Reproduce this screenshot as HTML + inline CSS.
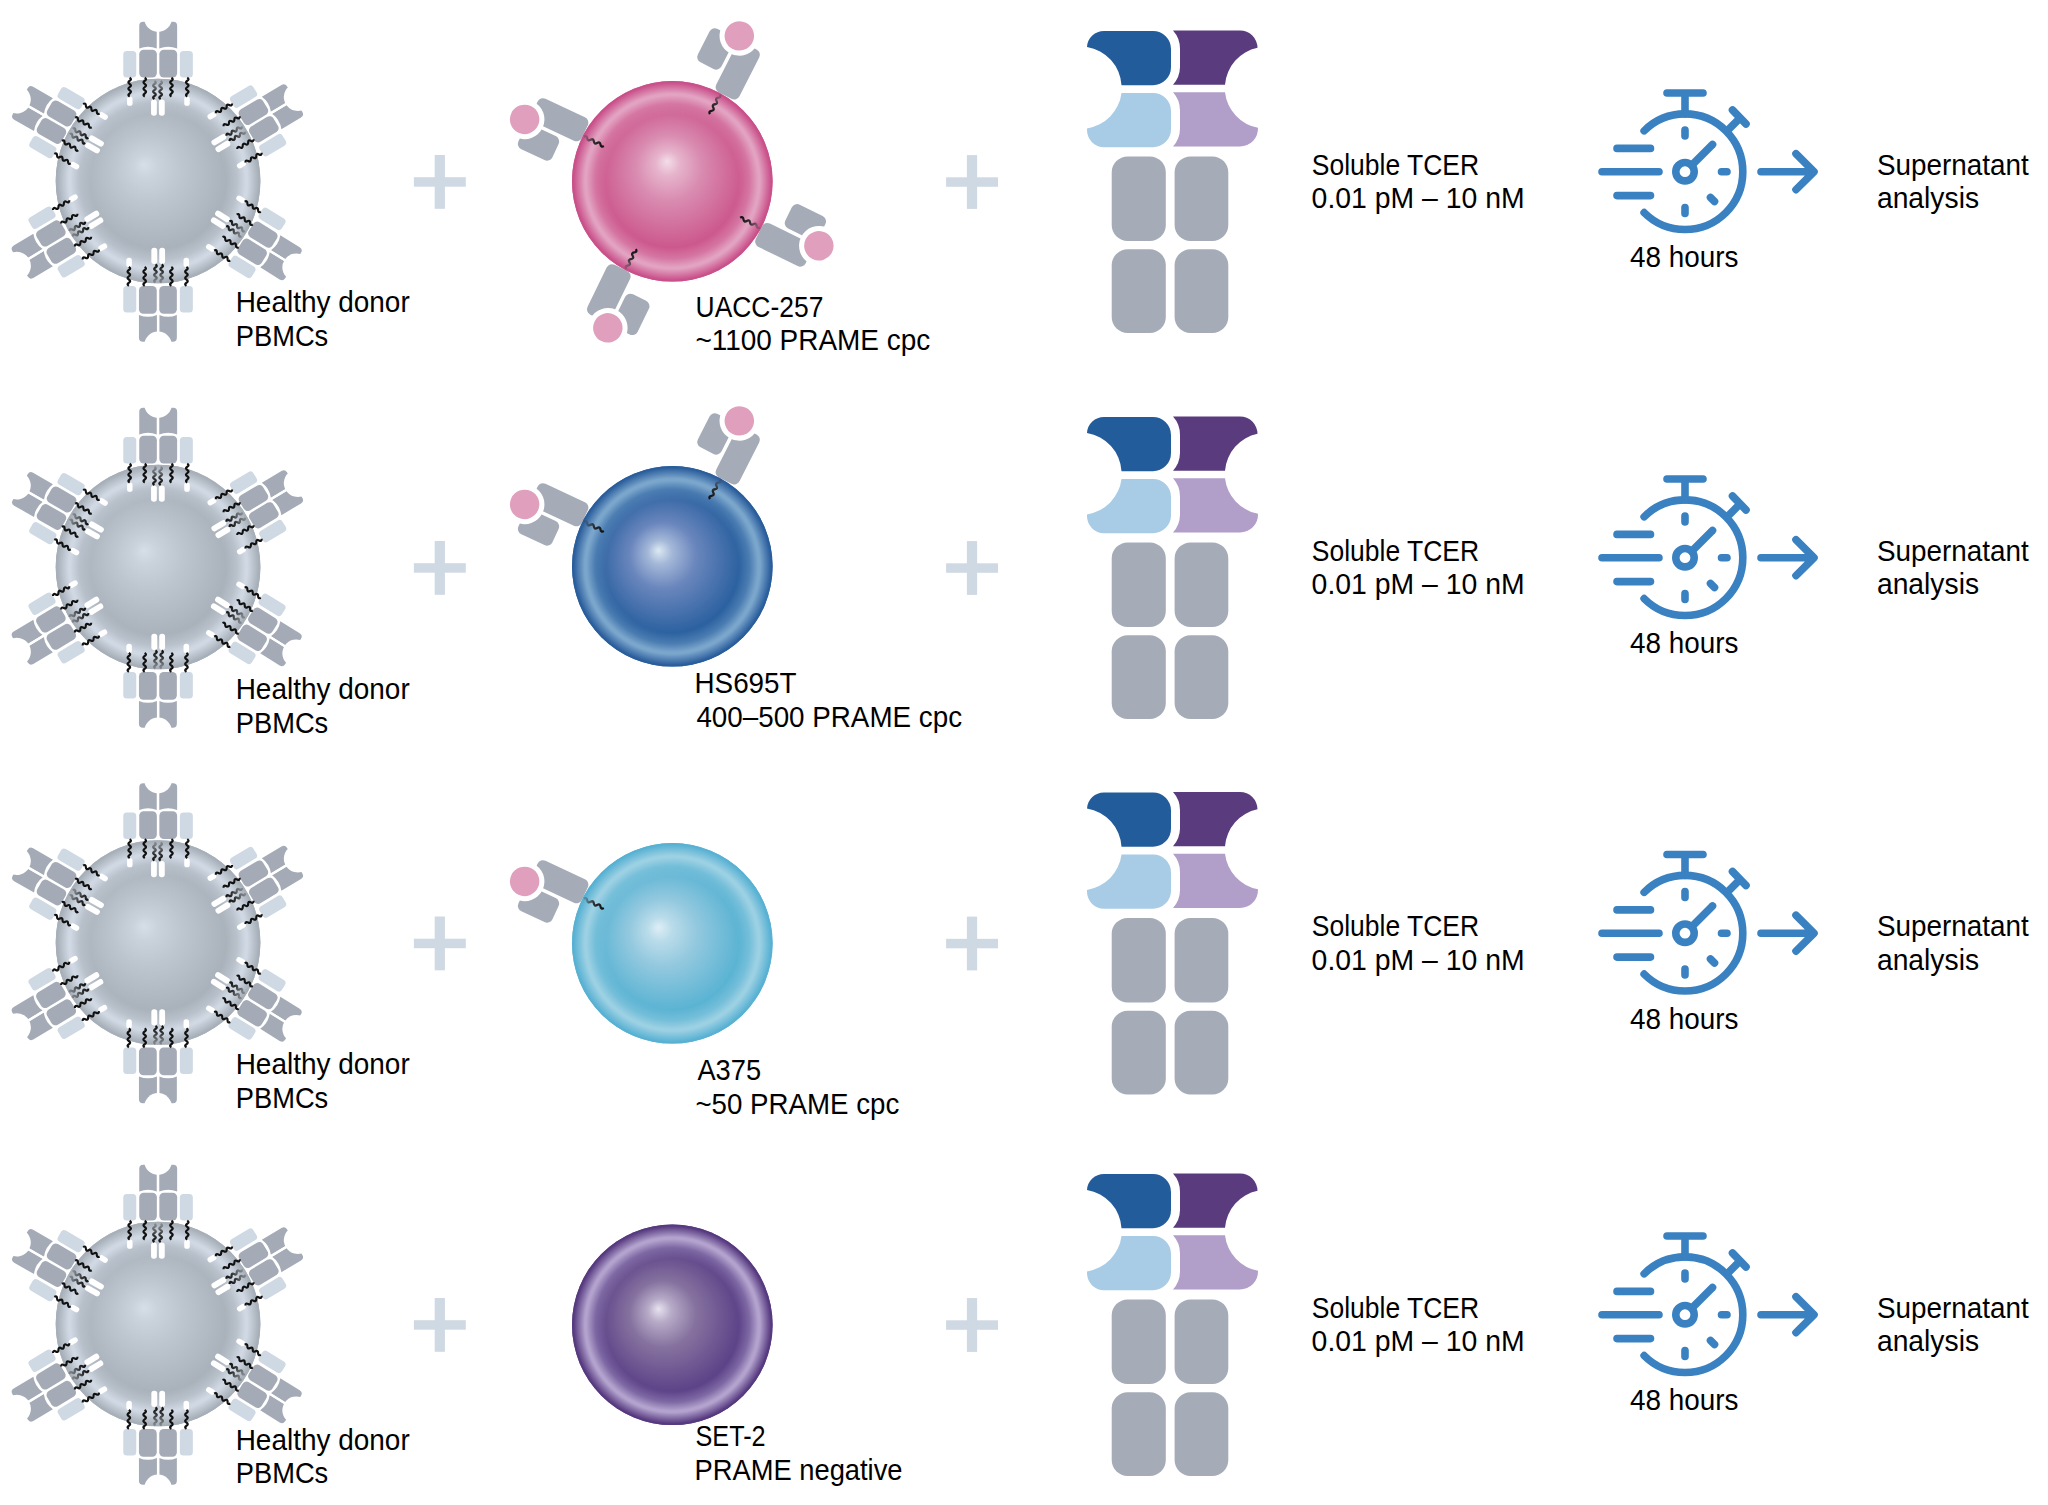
<!DOCTYPE html>
<html><head><meta charset="utf-8"><style>
html,body{margin:0;padding:0;background:#fff;width:2048px;height:1505px;overflow:hidden}
svg{display:block}
.t text{font-family:"Liberation Sans",sans-serif;font-size:29px;fill:#000}
</style></head><body>
<svg width="2048" height="1505" viewBox="0 0 2048 1505">
<defs><linearGradient id="wg1" gradientUnits="userSpaceOnUse" x1="0" y1="-100" x2="0" y2="-82">
<stop offset="0" stop-color="#555" stop-opacity="0.45"/><stop offset="0.6" stop-color="#222" stop-opacity="0.9"/><stop offset="1" stop-color="#111"/></linearGradient>
<linearGradient id="wg2" gradientUnits="userSpaceOnUse" x1="0" y1="-98" x2="0" y2="-77">
<stop offset="0" stop-color="#444" stop-opacity="0.35"/><stop offset="0.45" stop-color="#222" stop-opacity="0.9"/><stop offset="1" stop-color="#111"/></linearGradient>
<radialGradient id="pbb" cx="0.5" cy="0.5" r="0.5" fx="0.43" fy="0.42">
  <stop offset="0" stop-color="#d6dee7"/>
  <stop offset="0.12" stop-color="#cad2db"/>
  <stop offset="0.33" stop-color="#bdc5cf"/>
  <stop offset="0.72" stop-color="#a9b1bb"/>
  <stop offset="1" stop-color="#a9b1bb"/>
</radialGradient>
<radialGradient id="pbr" cx="0.5" cy="0.5" r="0.5">
  <stop offset="0.66" stop-color="#d0d9e3" stop-opacity="0"/>
  <stop offset="0.77" stop-color="#d0d9e3" stop-opacity="0.4"/>
  <stop offset="0.855" stop-color="#d0d9e3" stop-opacity="1"/>
  <stop offset="0.875" stop-color="#d0d9e3" stop-opacity="1"/>
  <stop offset="0.985" stop-color="#a7afb9"/>
  <stop offset="1" stop-color="#a7afb9"/>
</radialGradient>
<radialGradient id="c1b" cx="0.5" cy="0.5" r="0.5" fx="0.474" fy="0.4">
  <stop offset="0" stop-color="#f3dde9"/>
  <stop offset="0.12" stop-color="#e6b4cc"/>
  <stop offset="0.33" stop-color="#d98bb0"/>
  <stop offset="0.72" stop-color="#cc588d"/>
  <stop offset="1" stop-color="#cc588d"/>
</radialGradient>
<radialGradient id="c1r" cx="0.5" cy="0.5" r="0.5">
  <stop offset="0.66" stop-color="#e2a2c1" stop-opacity="0"/>
  <stop offset="0.77" stop-color="#e2a2c1" stop-opacity="0.4"/>
  <stop offset="0.855" stop-color="#e2a2c1" stop-opacity="1"/>
  <stop offset="0.875" stop-color="#e2a2c1" stop-opacity="1"/>
  <stop offset="0.985" stop-color="#c9508a"/>
  <stop offset="1" stop-color="#c9508a"/>
</radialGradient>
<radialGradient id="c2b" cx="0.5" cy="0.5" r="0.5" fx="0.43" fy="0.42">
  <stop offset="0" stop-color="#dde9f2"/>
  <stop offset="0.12" stop-color="#a4b8d8"/>
  <stop offset="0.33" stop-color="#6a86bd"/>
  <stop offset="0.72" stop-color="#2b61a0"/>
  <stop offset="1" stop-color="#2b61a0"/>
</radialGradient>
<radialGradient id="c2r" cx="0.5" cy="0.5" r="0.5">
  <stop offset="0.66" stop-color="#7ba6cc" stop-opacity="0"/>
  <stop offset="0.77" stop-color="#7ba6cc" stop-opacity="0.4"/>
  <stop offset="0.855" stop-color="#7ba6cc" stop-opacity="1"/>
  <stop offset="0.875" stop-color="#7ba6cc" stop-opacity="1"/>
  <stop offset="0.985" stop-color="#2a5d9c"/>
  <stop offset="1" stop-color="#2a5d9c"/>
</radialGradient>
<radialGradient id="c3b" cx="0.5" cy="0.5" r="0.5" fx="0.43" fy="0.42">
  <stop offset="0" stop-color="#dfeef6"/>
  <stop offset="0.12" stop-color="#badcea"/>
  <stop offset="0.33" stop-color="#94c9df"/>
  <stop offset="0.72" stop-color="#5ab3d3"/>
  <stop offset="1" stop-color="#5ab3d3"/>
</radialGradient>
<radialGradient id="c3r" cx="0.5" cy="0.5" r="0.5">
  <stop offset="0.66" stop-color="#9cd0e3" stop-opacity="0"/>
  <stop offset="0.77" stop-color="#9cd0e3" stop-opacity="0.4"/>
  <stop offset="0.855" stop-color="#9cd0e3" stop-opacity="1"/>
  <stop offset="0.875" stop-color="#9cd0e3" stop-opacity="1"/>
  <stop offset="0.985" stop-color="#58b1d3"/>
  <stop offset="1" stop-color="#58b1d3"/>
</radialGradient>
<radialGradient id="c4b" cx="0.5" cy="0.5" r="0.5" fx="0.43" fy="0.42">
  <stop offset="0" stop-color="#e7e2ef"/>
  <stop offset="0.12" stop-color="#b6aac7"/>
  <stop offset="0.33" stop-color="#86729f"/>
  <stop offset="0.72" stop-color="#5c4288"/>
  <stop offset="1" stop-color="#5c4288"/>
</radialGradient>
<radialGradient id="c4r" cx="0.5" cy="0.5" r="0.5">
  <stop offset="0.66" stop-color="#b2a2cd" stop-opacity="0"/>
  <stop offset="0.77" stop-color="#b2a2cd" stop-opacity="0.4"/>
  <stop offset="0.855" stop-color="#b2a2cd" stop-opacity="1"/>
  <stop offset="0.875" stop-color="#b2a2cd" stop-opacity="1"/>
  <stop offset="0.985" stop-color="#56397f"/>
  <stop offset="1" stop-color="#56397f"/>
</radialGradient><g id="rec"><path d="M-18.8 -132.4 V-155.3 a4 4 0 0 1 4 -4 H-1.2 V-132.4 Q-10 -136.2 -18.8 -132.4 Z" fill="#a4abb6"/>
<path d="M1.1 -132.4 V-159.3 H15.1 a4 4 0 0 1 4 4 V-132.4 Q10.1 -136.2 1.1 -132.4 Z" fill="#a4abb6"/>
<circle cx="0" cy="-163" r="13.9" fill="#fff"/>
<rect x="-1.2" y="-165" width="2.3" height="33" fill="#fff"/>
<rect x="-18.8" y="-131.2" width="17.6" height="27.8" rx="4.5" fill="#a4abb6"/>
<rect x="1.3" y="-131.2" width="17.8" height="27.8" rx="4.5" fill="#a4abb6"/>
<rect x="-34.8" y="-130.1" width="13" height="26.7" rx="3.5" fill="#cfd9e3"/>
<rect x="21.8" y="-130.1" width="13" height="26.7" rx="3.5" fill="#cfd9e3"/>
<rect x="-31" y="-84.5" width="5.5" height="9.3" rx="2.6" fill="#fff"/>
<rect x="26.2" y="-84.5" width="5.5" height="9.3" rx="2.6" fill="#fff"/>
<rect x="-7" y="-81.5" width="5.8" height="16.2" rx="2.7" fill="#fff"/>
<rect x="0.8" y="-81.5" width="5.9" height="16.2" rx="2.7" fill="#fff"/>
<path d="M-28.40 -103.40 q2.6 1.58 0 3.17 t0 3.17 t0 3.17 t0 3.17 t0 3.17 t0 3.17 M-13.30 -103.40 q2.6 1.58 0 3.17 t0 3.17 t0 3.17 t0 3.17 t0 3.17 t0 3.17 M13.40 -103.40 q2.6 1.58 0 3.17 t0 3.17 t0 3.17 t0 3.17 t0 3.17 t0 3.17 M29.20 -103.40 q2.6 1.58 0 3.17 t0 3.17 t0 3.17 t0 3.17 t0 3.17 t0 3.17" fill="none" stroke="#111" stroke-width="2.2"/>
<path d="M-3.60 -100.00 q2.6 1.50 0 3.00 t0 3.00 t0 3.00 t0 3.00 t0 3.00 t0 3.00 M2.60 -100.00 q2.6 1.50 0 3.00 t0 3.00 t0 3.00 t0 3.00 t0 3.00 t0 3.00" fill="none" stroke="url(#wg1)" stroke-width="2.3"/></g><g id="mhc"><rect x="-4.8" y="-155.8" width="26" height="55.5" rx="6" fill="#a5acb7"/>
<rect x="-34.8" y="-156.3" width="26.5" height="37.5" rx="6" fill="#a5acb7"/>
<circle cx="-6.3" cy="-160" r="19.8" fill="#fff"/>
<circle cx="-6.3" cy="-160" r="14.7" fill="#e09fbd"/></g><g id="mhcw"><path d="M3.00 -99.00 q2.7 1.83 0 3.67 t0 3.67 t0 3.67 t0 3.67 t0 3.67 t0 3.67" fill="none" stroke="url(#wg2)" stroke-width="2.3"/></g><g id="tcer">
<path d="M1087 47 A17 17 0 0 1 1104 31 L1153 31 A18 18 0 0 1 1171 49 L1171 67 A18 18 0 0 1 1153 85.2 L1121.5 85.2 A41 41 0 0 0 1087 47 Z" fill="#235c9b"/>
<path d="M1173 30.4 L1240 30.4 A17.5 17.5 0 0 1 1257.5 47.8 A41 41 0 0 0 1225 84.7 L1173 84.7 A27 27 0 0 0 1180 67 L1180 49 A27 27 0 0 0 1173 30.4 Z" fill="#5a3b7e"/>
<path d="M1121.5 92.9 L1153 92.9 A18 18 0 0 1 1171 111 L1171 129 A18 18 0 0 1 1153 147.2 L1104 147.2 A17 17 0 0 1 1087 130 L1087 128.4 A41 41 0 0 0 1121.5 92.9 Z" fill="#a8cce5"/>
<path d="M1173 92.3 L1225 92.3 A41 41 0 0 0 1258 127.8 A18 18 0 0 1 1240 146.5 L1173 146.5 A27 27 0 0 0 1180 128.5 L1180 110.5 A27 27 0 0 0 1173 92.3 Z" fill="#b19ec9"/>
<rect x="1111.7" y="156.4" width="54.1" height="84.5" rx="16" fill="#a5acb7"/>
<rect x="1174.6" y="156.4" width="53.7" height="84.5" rx="16" fill="#a5acb7"/>
<rect x="1111.7" y="249.2" width="54.1" height="83.8" rx="16" fill="#a5acb7"/>
<rect x="1174.6" y="249.2" width="53.7" height="83.8" rx="16" fill="#a5acb7"/>
</g><g id="sw">
<g fill="none" stroke="#3a81c1" stroke-width="7.6" stroke-linecap="round" stroke-linejoin="round">
<path d="M1644.13 130.83 A57.8 57.8 0 1 1 1644.13 212.57"/>
<path d="M1685 114 V93 M1667 93 H1703"/>
<path d="M1728 130 L1739 119 M1732.5 110 L1746 124"/>
<circle cx="1685" cy="171.7" r="9.2"/>
<path d="M1692 165 L1712.5 144.5"/>
<path d="M1685 130 V136 M1685 207.5 V213.5 M1721.5 171.7 H1727 M1710.5 197.5 L1714.5 201.5"/>
<path d="M1617 148.4 H1650.5 M1602 171.7 H1659 M1617 195.6 H1650.5"/>
<path d="M1761 171.7 H1813 M1796 153.8 L1814 171.7 L1796 189.6"/>
</g>
</g></defs>
<g transform="translate(158.05 181)"><circle r="102.35" fill="url(#pbb)"/><circle r="102.35" fill="url(#pbr)"/><use href="#rec" transform="rotate(0) translate(0 0)"/><use href="#rec" transform="rotate(59) translate(0 0)"/><use href="#rec" transform="rotate(122) translate(0 0)"/><use href="#rec" transform="rotate(180) translate(0 -1.5)"/><use href="#rec" transform="rotate(239) translate(0 -1.6)"/><use href="#rec" transform="rotate(300) translate(0 0)"/></g><g transform="translate(672.3 181.3)"><use href="#mhc" transform="rotate(27)"/><use href="#mhc" transform="rotate(116)"/><use href="#mhc" transform="rotate(206)"/><use href="#mhc" transform="rotate(295)"/><circle r="100.3" fill="url(#c1b)"/><circle r="100.3" fill="url(#c1r)"/><use href="#mhcw" transform="rotate(27)"/><use href="#mhcw" transform="rotate(116)"/><use href="#mhcw" transform="rotate(206)"/><use href="#mhcw" transform="rotate(295)"/></g><rect x="413.90" y="177.20" width="51.9" height="9.5" fill="#cfd9e3"/><rect x="434.70" y="155.00" width="10.2" height="53.8" fill="#cfd9e3"/><rect x="946.10" y="177.30" width="51.9" height="9.5" fill="#cfd9e3"/><rect x="966.90" y="155.10" width="10.2" height="53.8" fill="#cfd9e3"/><use href="#tcer" transform="translate(0 0)"/><use href="#sw" transform="translate(0 0)"/><g transform="translate(158.05 567)"><circle r="102.35" fill="url(#pbb)"/><circle r="102.35" fill="url(#pbr)"/><use href="#rec" transform="rotate(0) translate(0 0)"/><use href="#rec" transform="rotate(59) translate(0 0)"/><use href="#rec" transform="rotate(122) translate(0 0)"/><use href="#rec" transform="rotate(180) translate(0 -1.5)"/><use href="#rec" transform="rotate(239) translate(0 -1.6)"/><use href="#rec" transform="rotate(300) translate(0 0)"/></g><g transform="translate(672.3 566.3)"><use href="#mhc" transform="rotate(27)"/><use href="#mhc" transform="rotate(295)"/><circle r="100.3" fill="url(#c2b)"/><circle r="100.3" fill="url(#c2r)"/><use href="#mhcw" transform="rotate(27)"/><use href="#mhcw" transform="rotate(295)"/></g><rect x="413.90" y="563.20" width="51.9" height="9.5" fill="#cfd9e3"/><rect x="434.70" y="541.00" width="10.2" height="53.8" fill="#cfd9e3"/><rect x="946.10" y="563.30" width="51.9" height="9.5" fill="#cfd9e3"/><rect x="966.90" y="541.10" width="10.2" height="53.8" fill="#cfd9e3"/><use href="#tcer" transform="translate(0 386)"/><use href="#sw" transform="translate(0 386)"/><g transform="translate(158.05 942.5)"><circle r="102.35" fill="url(#pbb)"/><circle r="102.35" fill="url(#pbr)"/><use href="#rec" transform="rotate(0) translate(0 0)"/><use href="#rec" transform="rotate(59) translate(0 0)"/><use href="#rec" transform="rotate(122) translate(0 0)"/><use href="#rec" transform="rotate(180) translate(0 -1.5)"/><use href="#rec" transform="rotate(239) translate(0 -1.6)"/><use href="#rec" transform="rotate(300) translate(0 0)"/></g><g transform="translate(672.3 943.3)"><use href="#mhc" transform="rotate(295)"/><circle r="100.3" fill="url(#c3b)"/><circle r="100.3" fill="url(#c3r)"/><use href="#mhcw" transform="rotate(295)"/></g><rect x="413.90" y="938.70" width="51.9" height="9.5" fill="#cfd9e3"/><rect x="434.70" y="916.50" width="10.2" height="53.8" fill="#cfd9e3"/><rect x="946.10" y="938.80" width="51.9" height="9.5" fill="#cfd9e3"/><rect x="966.90" y="916.60" width="10.2" height="53.8" fill="#cfd9e3"/><use href="#tcer" transform="translate(0 761.5)"/><use href="#sw" transform="translate(0 761.5)"/><g transform="translate(158.05 1324)"><circle r="102.35" fill="url(#pbb)"/><circle r="102.35" fill="url(#pbr)"/><use href="#rec" transform="rotate(0) translate(0 0)"/><use href="#rec" transform="rotate(59) translate(0 0)"/><use href="#rec" transform="rotate(122) translate(0 0)"/><use href="#rec" transform="rotate(180) translate(0 -1.5)"/><use href="#rec" transform="rotate(239) translate(0 -1.6)"/><use href="#rec" transform="rotate(300) translate(0 0)"/></g><g transform="translate(672.3 1324.8)"><circle r="100.3" fill="url(#c4b)"/><circle r="100.3" fill="url(#c4r)"/></g><rect x="413.90" y="1320.20" width="51.9" height="9.5" fill="#cfd9e3"/><rect x="434.70" y="1298.00" width="10.2" height="53.8" fill="#cfd9e3"/><rect x="946.10" y="1320.30" width="51.9" height="9.5" fill="#cfd9e3"/><rect x="966.90" y="1298.10" width="10.2" height="53.8" fill="#cfd9e3"/><use href="#tcer" transform="translate(0 1143)"/><use href="#sw" transform="translate(0 1143)"/><g class="t"><text id="hd0" x="235.70" y="312.20" textLength="174.04" lengthAdjust="spacingAndGlyphs">Healthy donor</text><text id="pb0" x="235.77" y="345.50" textLength="92.50" lengthAdjust="spacingAndGlyphs">PBMCs</text><text id="cl0" x="695.60" y="316.70" textLength="127.73" lengthAdjust="spacingAndGlyphs">UACC-257</text><text id="cm0" x="695.44" y="350.20" textLength="234.81" lengthAdjust="spacingAndGlyphs">~1100 PRAME cpc</text><text id="st0" x="1311.75" y="174.60" textLength="167.34" lengthAdjust="spacingAndGlyphs">Soluble TCER</text><text id="co0" x="1311.62" y="208.30" textLength="212.99" lengthAdjust="spacingAndGlyphs">0.01 pM – 10 nM</text><text id="h480" x="1630.11" y="267.40" textLength="108.43" lengthAdjust="spacingAndGlyphs">48 hours</text><text id="su0" x="1876.97" y="174.90" textLength="151.74" lengthAdjust="spacingAndGlyphs">Supernatant</text><text id="an0" x="1876.94" y="208.40" textLength="102.11" lengthAdjust="spacingAndGlyphs">analysis</text><text id="hd1" x="235.70" y="699.20" textLength="174.04" lengthAdjust="spacingAndGlyphs">Healthy donor</text><text id="pb1" x="235.77" y="732.50" textLength="92.50" lengthAdjust="spacingAndGlyphs">PBMCs</text><text id="cl1" x="694.48" y="693.40" textLength="102.11" lengthAdjust="spacingAndGlyphs">HS695T</text><text id="cm1" x="696.41" y="726.90" textLength="265.63" lengthAdjust="spacingAndGlyphs">400–500 PRAME cpc</text><text id="st1" x="1311.75" y="560.60" textLength="167.34" lengthAdjust="spacingAndGlyphs">Soluble TCER</text><text id="co1" x="1311.62" y="594.30" textLength="212.99" lengthAdjust="spacingAndGlyphs">0.01 pM – 10 nM</text><text id="h481" x="1630.11" y="653.40" textLength="108.43" lengthAdjust="spacingAndGlyphs">48 hours</text><text id="su1" x="1876.97" y="560.90" textLength="151.74" lengthAdjust="spacingAndGlyphs">Supernatant</text><text id="an1" x="1876.94" y="594.40" textLength="102.11" lengthAdjust="spacingAndGlyphs">analysis</text><text id="hd2" x="235.70" y="1074.20" textLength="174.04" lengthAdjust="spacingAndGlyphs">Healthy donor</text><text id="pb2" x="235.77" y="1107.50" textLength="92.50" lengthAdjust="spacingAndGlyphs">PBMCs</text><text id="cl2" x="697.41" y="1080.20" textLength="63.65" lengthAdjust="spacingAndGlyphs">A375</text><text id="cm2" x="695.45" y="1113.70" textLength="203.86" lengthAdjust="spacingAndGlyphs">~50 PRAME cpc</text><text id="st2" x="1311.75" y="936.10" textLength="167.34" lengthAdjust="spacingAndGlyphs">Soluble TCER</text><text id="co2" x="1311.62" y="969.80" textLength="212.99" lengthAdjust="spacingAndGlyphs">0.01 pM – 10 nM</text><text id="h482" x="1630.11" y="1028.90" textLength="108.43" lengthAdjust="spacingAndGlyphs">48 hours</text><text id="su2" x="1876.97" y="936.40" textLength="151.74" lengthAdjust="spacingAndGlyphs">Supernatant</text><text id="an2" x="1876.94" y="969.90" textLength="102.11" lengthAdjust="spacingAndGlyphs">analysis</text><text id="hd3" x="235.70" y="1449.90" textLength="174.04" lengthAdjust="spacingAndGlyphs">Healthy donor</text><text id="pb3" x="235.77" y="1483.20" textLength="92.50" lengthAdjust="spacingAndGlyphs">PBMCs</text><text id="cl3" x="695.55" y="1446.10" textLength="70.06" lengthAdjust="spacingAndGlyphs">SET-2</text><text id="cm3" x="694.53" y="1479.60" textLength="208.01" lengthAdjust="spacingAndGlyphs">PRAME negative</text><text id="st3" x="1311.75" y="1317.60" textLength="167.34" lengthAdjust="spacingAndGlyphs">Soluble TCER</text><text id="co3" x="1311.62" y="1351.30" textLength="212.99" lengthAdjust="spacingAndGlyphs">0.01 pM – 10 nM</text><text id="h483" x="1630.11" y="1410.40" textLength="108.43" lengthAdjust="spacingAndGlyphs">48 hours</text><text id="su3" x="1876.97" y="1317.90" textLength="151.74" lengthAdjust="spacingAndGlyphs">Supernatant</text><text id="an3" x="1876.94" y="1351.40" textLength="102.11" lengthAdjust="spacingAndGlyphs">analysis</text></g>
</svg>
</body></html>
